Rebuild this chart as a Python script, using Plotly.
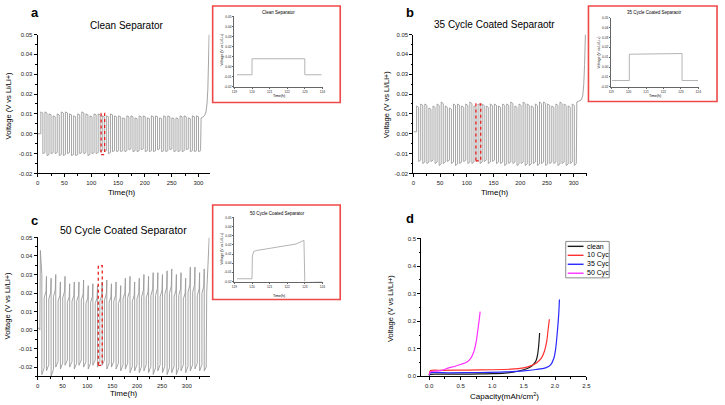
import plotly.graph_objects as go

W, H = 725, 405
FONT = "Liberation Sans"

# ---------------- data ----------------
# Panel a: clean separator, per-cycle peak voltages (V)
a_start, a_period = 6.0, 7.64
a_upper = [0.011, 0.011, 0.010, 0.009, 0.010, 0.011, 0.011, 0.010, 0.009, 0.010, 0.011, 0.010, 0.009,
           0.010, 0.010, 0.009, 0.009, 0.010, 0.009, 0.009, 0.008, 0.009, 0.009, 0.008, 0.009, 0.009,
           0.008, 0.009, 0.009, 0.008, 0.009, 0.009, 0.008, 0.008, 0.009, 0.009, 0.008, 0.009, 0.009]
a_lower = [-0.010, -0.011, -0.010, -0.010, -0.011, -0.011, -0.010, -0.011, -0.011, -0.010, -0.010, -0.011,
           -0.010, -0.010, -0.009, -0.009, -0.010, -0.009, -0.009, -0.009, -0.009, -0.008, -0.009, -0.009,
           -0.008, -0.009, -0.009, -0.009, -0.008, -0.009, -0.009, -0.008, -0.009, -0.009, -0.009, -0.008,
           -0.009, -0.009, -0.009]
a_lead_t, a_lead_v = [0.0, 6.0], [0.0, 0.0]
a_tail_t = [304.0, 305.0, 309.0, 312.0, 314.0, 316.0, 317.5, 319.0, 320.0]
a_tail_v = [-0.008, 0.008, 0.0085, 0.0095, 0.011, 0.015, 0.022, 0.035, 0.050]

# Panel b: 35 cycle coated
b_start, b_period = 6.0, 7.67
b_upper = [0.014, 0.015, 0.015, 0.013, 0.014, 0.015, 0.016, 0.014, 0.013, 0.015, 0.015, 0.014, 0.015,
           0.016, 0.014, 0.015, 0.015, 0.014, 0.015, 0.015, 0.014, 0.015, 0.015, 0.016, 0.014, 0.015,
           0.016, 0.015, 0.014, 0.015, 0.016, 0.016, 0.015, 0.014, 0.015, 0.016, 0.015, 0.014, 0.015]
b_lower = [-0.014, -0.015, -0.015, -0.014, -0.015, -0.016, -0.015, -0.014, -0.015, -0.016, -0.015, -0.014,
           -0.015, -0.015, -0.014, -0.015, -0.014, -0.015, -0.014, -0.015, -0.015, -0.016, -0.015, -0.015,
           -0.016, -0.015, -0.016, -0.016, -0.015, -0.016, -0.015, -0.016, -0.015, -0.015, -0.016, -0.015,
           -0.016, -0.015, -0.016]
b_lead_t, b_lead_v = [0.0, 6.0], [0.001, 0.001]
b_tail_t = [305.0, 306.0, 310.0, 314.0, 317.0, 319.0, 320.5, 322.0]
b_tail_v = [-0.015, 0.016, 0.0165, 0.017, 0.019, 0.025, 0.035, 0.050]

# Panel c: 50 cycle coated
c_start, c_period = 8.5, 9.33
c_lower = [-0.024, -0.022, -0.025, -0.020, -0.021, -0.019, -0.020, -0.021, -0.019, -0.020, -0.021, -0.019,
           -0.020, -0.019, -0.021, -0.020, -0.021, -0.022, -0.021, -0.023, -0.022, -0.023, -0.022, -0.023,
           -0.024, -0.022, -0.023, -0.024, -0.023, -0.024, -0.022, -0.023, -0.022, -0.021, -0.022]
c_upper = [0.029, 0.028, 0.030, 0.026, 0.029, 0.025, 0.026, 0.026, 0.027, 0.024, 0.025, 0.024, 0.026,
           0.027, 0.025, 0.026, 0.024, 0.028, 0.029, 0.026, 0.028, 0.030, 0.029, 0.031, 0.031, 0.030,
           0.032, 0.033, 0.030, 0.031, 0.028, 0.034, 0.034, 0.031, 0.033]
c_lead_t = [0.0, 3.0, 4.5, 5.0, 5.5, 8.5]
c_lead_v = [0.001, 0.001, 0.0, 0.020, 0.043, 0.030]
c_tail_t = [335.0, 335.0, 339.0, 340.0, 341.5, 343.5, 345.0]
c_tail_v = [0.033, -0.022, -0.020, 0.020, 0.030, 0.040, 0.050]

# insets (zoom of 119-124 h)
ia_t = [119.15, 120.0, 120.0, 123.0, 123.0, 123.95]
ia_v = [-0.008, -0.008, 0.008, 0.008, -0.008, -0.008]
ib_t = [119.05, 120.04, 120.04, 123.07, 123.07, 124.0]
ib_v = [-0.0137, -0.0137, 0.0130, 0.0137, -0.0137, -0.0137]
ic_t = [119.15, 120.0, 120.02, 120.1, 120.3, 121.0, 122.0, 122.5, 122.95, 123.0, 123.1, 124.0]
ic_v = [-0.017, -0.017, 0.008, 0.013, 0.014, 0.016, 0.019, 0.021, 0.025, -0.022, -0.021, -0.020]

# Panel d: voltage vs capacity
d_names = ["clean", "10 Cyc", "35 Cyc", "50 Cyc"]
clean_x = [0.0, 0.01, 0.2, 0.5, 0.8, 1.0, 1.2, 1.35, 1.5, 1.6, 1.65, 1.7, 1.72, 1.74, 1.75, 1.755]
clean_y = [0.003, 0.007, 0.008, 0.008, 0.009, 0.010, 0.012, 0.016, 0.024, 0.033, 0.042, 0.058, 0.075, 0.11, 0.14, 0.157]
c10_x = [0.0, 0.02, 0.2, 0.6, 1.0, 1.3, 1.5, 1.6, 1.7, 1.78, 1.83, 1.87, 1.89, 1.91]
c10_y = [0.005, 0.021, 0.022, 0.023, 0.024, 0.026, 0.031, 0.037, 0.048, 0.065, 0.09, 0.13, 0.17, 0.207]
c35_x = [0.0, 0.02, 0.3, 0.8, 1.2, 1.5, 1.7, 1.85, 1.93, 1.98, 2.01, 2.04, 2.06, 2.07]
c35_y = [0.004, 0.013, 0.013, 0.014, 0.016, 0.020, 0.025, 0.031, 0.042, 0.065, 0.10, 0.17, 0.23, 0.279]
c50_x = [0.0, 0.02, 0.1, 0.2, 0.3, 0.4, 0.5, 0.6, 0.66, 0.71, 0.75, 0.78, 0.8, 0.81]
c50_y = [0.006, 0.017, 0.019, 0.022, 0.030, 0.036, 0.043, 0.052, 0.065, 0.09, 0.13, 0.18, 0.215, 0.235]

# highlighted windows (h, V)
a_win = [118.5, 125.0, -0.0105, 0.0102]
b_win = [117.0, 126.0, -0.0137, 0.0150]
c_win = [122.0, 130.0, -0.0191, 0.0348]

v_ticks = [-0.02, -0.01, 0.00, 0.01, 0.02, 0.03, 0.04, 0.05]
v_labels = ["%.2f" % v for v in v_ticks]
t_ticks = [0, 50, 100, 150, 200, 250, 300]
in_t_ticks = [119, 120, 121, 122, 123, 124]
d_yticks = [0.0, 0.1, 0.2, 0.3, 0.4, 0.5]
d_xticks = [0.0, 0.5, 1.0, 1.5, 2.0, 2.5]


# ---------------- helpers ----------------
def px(x):
    return x / W


def py(y):
    return 1 - y / H


def wave(t0, period, first, second, shape1, shape2, lead_t, lead_v, tail_t, tail_v):
    xs, ys = list(lead_t), list(lead_v)
    h = period / 2
    for i, (p, q) in enumerate(zip(first, second)):
        t = t0 + i * period
        for f, m in shape1:
            xs.append(t + f * h)
            ys.append(p * m)
        for f, m in shape2:
            xs.append(t + h + f * h)
            ys.append(q * m)
    xs += tail_t
    ys += tail_v
    return xs, ys


def axis(dom, rng, anchor, tickvals, ticktext, minor_dtick, fs=6, lw=1, tl=3, col="black"):
    return dict(domain=dom, range=rng, anchor=anchor, tickvals=tickvals, ticktext=ticktext,
                showline=True, linecolor=col, linewidth=lw, ticks="outside", ticklen=tl,
                tickwidth=lw, tickcolor=col, showgrid=False, zeroline=False,
                tickfont=dict(size=fs, family=FONT, color="#222"),
                minor=dict(ticks="outside", ticklen=tl * 0.55, dtick=minor_dtick, tickcolor=col,
                           tickwidth=lw, showgrid=False),
                fixedrange=True)


fig = go.Figure()
MAIN = dict(color="#9a9a9a", width=0.9)
INSET = dict(color="#b4b4b4", width=1)

xa, ya = wave(a_start, a_period, a_upper, a_lower, [(0, 1.0), (1, 0.95)], [(0, 1.0), (1, 0.95)],
              a_lead_t, a_lead_v, a_tail_t, a_tail_v)
fig.add_trace(go.Scatter(x=xa, y=ya, mode="lines", line=MAIN, xaxis="x", yaxis="y", showlegend=False))
xb, yb = wave(b_start, b_period, b_upper, b_lower, [(0, 1.0), (1, 0.95)], [(0, 1.0), (1, 0.95)],
              b_lead_t, b_lead_v, b_tail_t, b_tail_v)
fig.add_trace(go.Scatter(x=xb, y=yb, mode="lines", line=MAIN, xaxis="x3", yaxis="y3", showlegend=False))
xc, yc = wave(c_start, c_period, c_lower, c_upper, [(0, 1.0), (1, 0.85)],
              [(0, 0.6), (0.8, 0.72), (1, 1.0)], c_lead_t, c_lead_v, c_tail_t, c_tail_v)
fig.add_trace(go.Scatter(x=xc, y=yc, mode="lines", line=MAIN, xaxis="x5", yaxis="y5", showlegend=False))

fig.add_trace(go.Scatter(x=ia_t, y=ia_v, mode="lines", line=INSET, xaxis="x2", yaxis="y2", showlegend=False))
fig.add_trace(go.Scatter(x=ib_t, y=ib_v, mode="lines", line=INSET, xaxis="x4", yaxis="y4", showlegend=False))
fig.add_trace(go.Scatter(x=ic_t, y=ic_v, mode="lines", line=INSET, xaxis="x6", yaxis="y6", showlegend=False))

d_cols = ["#1a1a1a", "#ff3030", "#2828ff", "#ff30ff"]
for name, xs, ys, col in zip(d_names, [clean_x, c10_x, c35_x, c50_x], [clean_y, c10_y, c35_y, c50_y], d_cols):
    fig.add_trace(go.Scatter(x=xs, y=ys, mode="lines", name=name, showlegend=False,
                             line=dict(color=col, width=1.2, shape="spline", smoothing=0.6),
                             xaxis="x7", yaxis="y7"))

# main axes
fig.update_layout(
    xaxis=axis([px(35), px(209)], [0, 321], "y", t_ticks, [str(t) for t in t_ticks], 25),
    yaxis=axis([py(173), py(32)], [-0.02, 0.05], "x", v_ticks, v_labels, 0.005),
    xaxis3=axis([px(415), px(590.5)], [0, 325], "y3", t_ticks, [str(t) for t in t_ticks], 25),
    yaxis3=axis([py(173), py(32)], [-0.02, 0.05], "x3", v_ticks, v_labels, 0.005),
    xaxis5=axis([px(35), px(209)], [0, 346], "y5", t_ticks, [str(t) for t in t_ticks], 25),
    yaxis5=axis([py(379), py(238)], [-0.025, 0.05], "x5", v_ticks, v_labels, 0.005),
    xaxis7=axis([px(423), px(590)], [-0.125, 2.5], "y7", d_xticks, ["%.1f" % v for v in d_xticks], 0.25),
    yaxis7=axis([py(379), py(239)], [0, 0.5], "x7", d_yticks, ["%.1f" % v for v in d_yticks], 0.05),
    # insets
    xaxis2=axis([px(234), px(323)], [119, 124], "y2", in_t_ticks, [str(t) for t in in_t_ticks], 0.5, fs=3.2, lw=0.5, tl=1.5, col="#666"),
    yaxis2=axis([py(85), py(14)], [-0.02, 0.05], "x2", v_ticks, v_labels, 0.005, fs=3.2, lw=0.5, tl=1.5, col="#666"),
    xaxis4=axis([px(615), px(703)], [119, 124], "y4", in_t_ticks, [str(t) for t in in_t_ticks], 0.5, fs=3.2, lw=0.5, tl=1.5, col="#666"),
    yaxis4=axis([py(85), py(15)], [-0.02, 0.05], "x4", v_ticks, v_labels, 0.005, fs=3.2, lw=0.5, tl=1.5, col="#666"),
    xaxis6=axis([px(234), px(323)], [119, 124], "y6", in_t_ticks, [str(t) for t in in_t_ticks], 0.5, fs=3.2, lw=0.5, tl=1.5, col="#666"),
    yaxis6=axis([py(282.7), py(217.7)], [-0.02, 0.05], "x6", v_ticks, v_labels, 0.005, fs=3.2, lw=0.5, tl=1.5, col="#666"),
)

shapes = []
RED = "#ef4848"
for x0, y0, x1, y1 in [(212, 3, 341, 101), (592, 3, 722, 100), (212, 205, 341, 301)]:
    shapes.append(dict(type="rect", xref="paper", yref="paper", x0=px(x0), x1=px(x1), y0=py(y1), y1=py(y0),
                       line=dict(color=RED, width=1.6), fillcolor="rgba(0,0,0,0)", layer="above"))
for win, xr, yr in [(a_win, "x", "y"), (b_win, "x3", "y3"), (c_win, "x5", "y5")]:
    shapes.append(dict(type="rect", xref=xr, yref=yr, x0=win[0], x1=win[1], y0=win[2], y1=win[3],
                       line=dict(color="#e82020", width=1.3, dash="dot"), layer="above"))

ann = []


def text(x, y, s, size, bold=False, angle=0, color="black", anchor="center"):
    ann.append(dict(x=px(x), y=py(y), xref="paper", yref="paper", text=("<b>%s</b>" % s) if bold else s,
                    showarrow=False, textangle=angle, xanchor=anchor, yanchor="middle",
                    font=dict(size=size, family=FONT, color=color)))


# legend for panel d (compact, Origin style)
shapes.append(dict(type="rect", xref="paper", yref="paper", x0=px(569), x1=px(613), y0=py(279), y1=py(242),
                   line=dict(color="#8a8a8a", width=1), fillcolor="white", layer="above"))
for i, (name, col) in enumerate(zip(d_names, d_cols)):
    yy = 247 + i * 9.1
    shapes.append(dict(type="line", xref="paper", yref="paper", x0=px(571), x1=px(587), y0=py(yy), y1=py(yy),
                       line=dict(color=col, width=1.4), layer="above"))
    text(588, yy, name, 7, anchor="left")

text(32, 10, "a", 13, True)
text(412, 10, "b", 13, True)
text(32, 221, "c", 13, True)
text(412, 219, "d", 13, True)
text(125, 23, "Clean Separator", 10)
text(497, 22, "35 Cycle Coated Separaotr", 10)
text(122, 230, "50 Cycle Coated Separator", 10.5)
for x, y in [(6, 104), (388, 103), (5, 307)]:
    text(x, y, "Voltage (V vs Li/Li+)", 7.5, angle=-90)
text(392, 310, "Voltage (V vs Li/Li+)", 7.5, angle=-90)
text(120, 192, "Time(h)", 8)
text(497, 192, "Time(h)", 8)
text(122, 396, "Time(h)", 8)
text(507, 399, "Capacity(mAh/cm<sup>2</sup>)", 8)
# inset labels
text(279, 10, "Clean Separator", 4.5)
text(659, 10, "35 Cycle Coated Separaotr", 4.5)
text(278, 214, "50 Cycle Coated Separator", 4.5)
for x, y in [(279, 94), (659, 94), (279, 297)]:
    text(x, y, "Time(h)", 3.6)
for x, y in [(222, 48), (603, 50), (222, 250)]:
    text(x, y, "Voltage (V vs Li/Li+)", 3.6, angle=-90)

fig.update_layout(
    width=W, height=H, margin=dict(l=0, r=0, t=0, b=0), paper_bgcolor="white", plot_bgcolor="rgba(0,0,0,0)",
    shapes=shapes, annotations=ann, font=dict(family=FONT), showlegend=False,
)

fig.write_html("out.html")
